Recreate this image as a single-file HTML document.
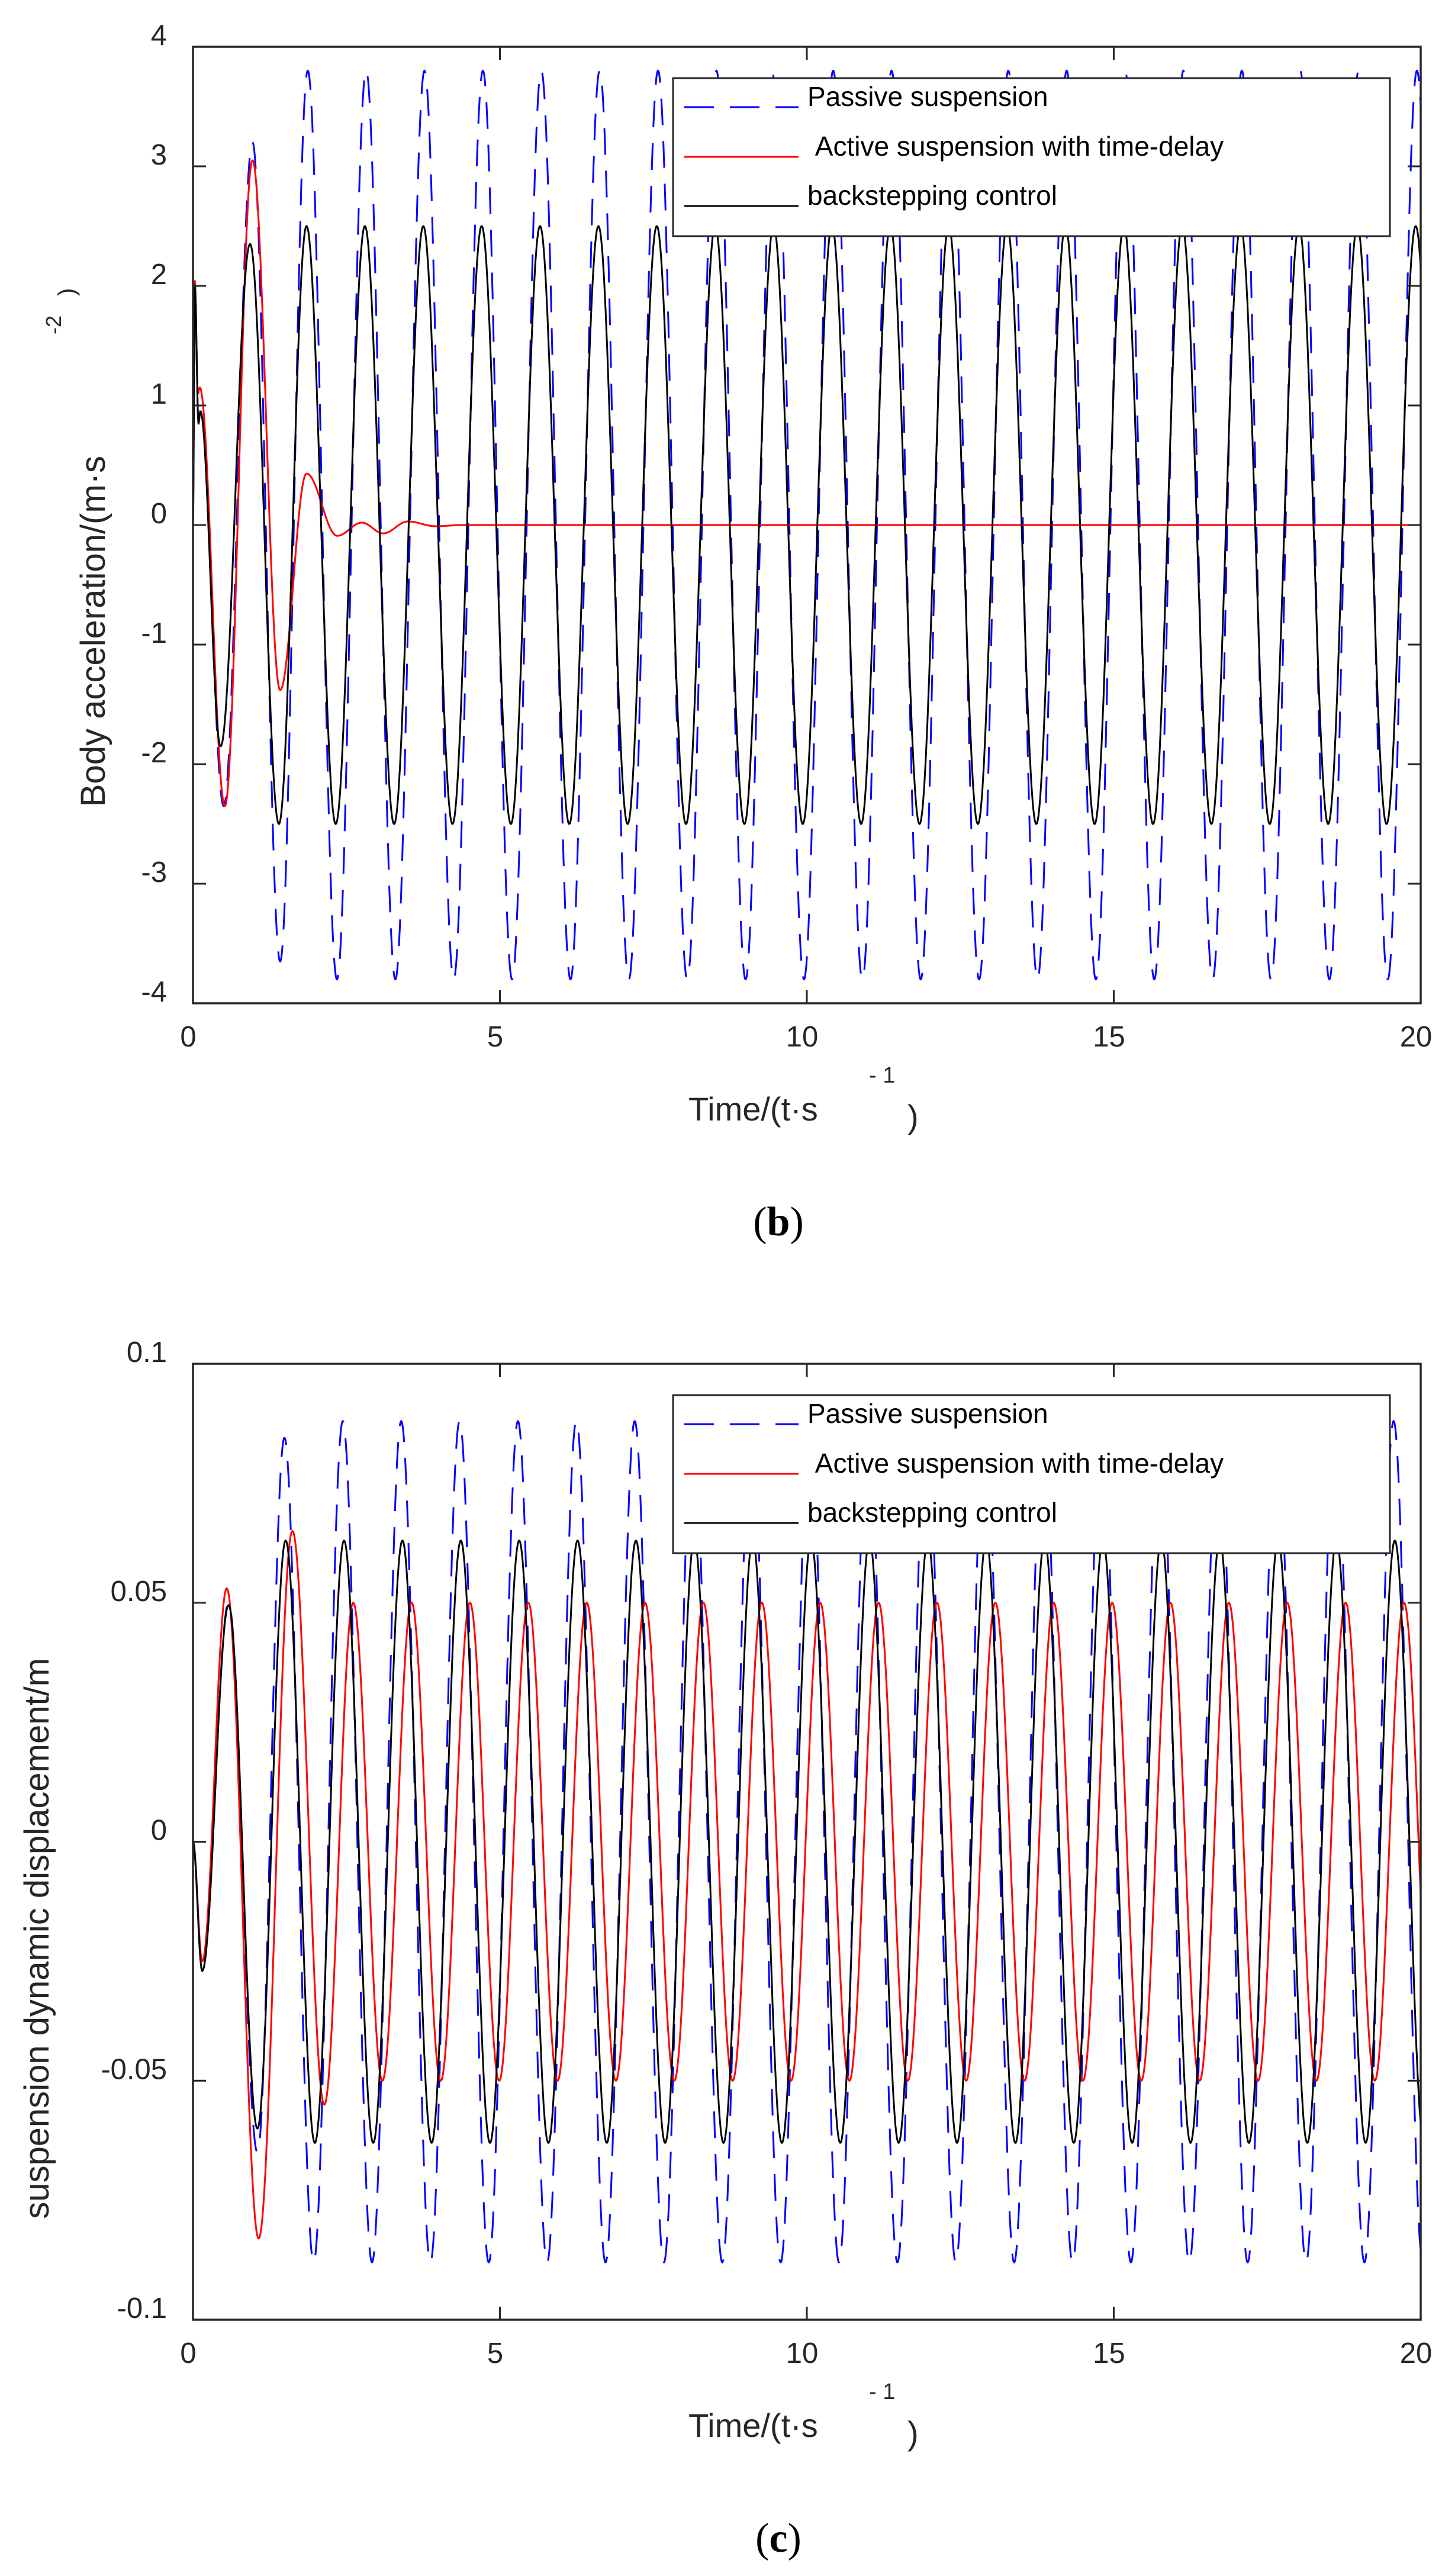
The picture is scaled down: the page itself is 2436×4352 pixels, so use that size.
<!DOCTYPE html>
<html><head><meta charset="utf-8">
<style>
html,body{margin:0;padding:0;background:#fff;}
svg{display:block;}
text{font-family:"Liberation Sans",Arial,sans-serif;fill:#262626;}
</style></head>
<body>
<svg id="s" width="2436" height="4352" viewBox="0 0 2436 4352" xmlns="http://www.w3.org/2000/svg">
<defs>
<clipPath id="cb"><rect x="326" y="79" width="2074" height="1616"/></clipPath>
<clipPath id="cc"><rect x="326" y="2304" width="2074" height="1615"/></clipPath>
</defs>
<g id="gb" clip-path="url(#cb)"></g>
<g id="gc" clip-path="url(#cc)"></g>
<g id="axes"></g>

<text x="177" y="770" font-size="58" text-anchor="end" transform="rotate(-90 177 770)">Body acceleration/(m·s</text>
<text x="103" y="565" font-size="36" transform="rotate(-90 103 565)">-2</text>
<text x="126" y="500" font-size="40" transform="rotate(-90 126 500)">)</text>
<text x="1163" y="1893" font-size="56">Time/(t·s</text>
<text x="1468" y="1829" font-size="38">- 1</text>
<text x="1533" y="1906" font-size="56">)</text>
<text x="1315" y="2087" font-size="70" text-anchor="middle" style="font-family:'Liberation Serif',serif;fill:#000">(<tspan font-weight="bold">b</tspan>)</text>

<text x="82" y="2801" font-size="58" text-anchor="end" transform="rotate(-90 82 2801)">suspension dynamic displacement/m</text>
<text x="1163" y="4117" font-size="56">Time/(t·s</text>
<text x="1468" y="4053" font-size="38">- 1</text>
<text x="1533" y="4130" font-size="56">)</text>
<text x="1315" y="4311" font-size="70" text-anchor="middle" style="font-family:'Liberation Serif',serif;fill:#000">(<tspan font-weight="bold">c</tspan>)</text>
</svg>
<script>
(function(){
var NS="http://www.w3.org/2000/svg";
var svg=document.getElementById('s');
function el(tag,attrs,parent,txt){var e=document.createElementNS(NS,tag);for(var k in attrs)e.setAttribute(k,attrs[k]);if(txt!==undefined)e.textContent=txt;(parent||svg).appendChild(e);return e;}
var X0=326,X1=2400;
function xs(t){return X0+(X1-X0)*t/20;}
function build(ext,amp,t0,half){
  var pts=ext.slice();var k=0;
  while(true){var t=t0+k*half;if(t>20.6)break;pts.push([t,(k%2==0?1:-1)*amp]);k++;}
  return pts;
}
function valAt(pts,t){
  for(var i=0;i<pts.length-1;i++){
    if(t>=pts[i][0]&&t<=pts[i+1][0]){
      var a=pts[i],b=pts[i+1];var u=(t-a[0])/(b[0]-a[0]);
      return a[1]+(b[1]-a[1])*(1-Math.cos(Math.PI*u))/2;
    }
  }
  return pts[pts.length-1][1];
}
function path(pts,ymap){
  var d="";for(var t=0;t<=20.0001;t+=0.004){d+=(d?"L":"M")+xs(t).toFixed(1)+","+ymap(valAt(pts,t)).toFixed(1);}
  return d;
}
var H=0.951/2;
var yb=function(v){return 887-202*v;};
var gb=document.getElementById('gb');
var blueB=build([[0,0],[0.03,2.0],[0.09,0.85],[0.12,0.95],[0.5,-2.35],[0.97,3.2],[1.42,-3.65]],3.8,1.87,H);
var redB=[[0,0],[0.03,2.05],[0.08,1.1],[0.11,1.15],[0.52,-2.35],[0.97,3.05],[1.42,-1.38],[1.85,0.43],[2.35,-0.09],[2.75,0.02],[3.1,-0.07],[3.5,0.03],[3.95,-0.01],[4.4,0],[21,0]];
var blackB=build([[0,0],[0.03,2.0],[0.09,0.85],[0.12,0.95],[0.45,-1.85],[0.93,2.35],[1.4,-2.5]],2.5,1.85,H);
el('path',{d:path(blueB,yb),fill:'none',stroke:'#0000ff','stroke-width':3,'stroke-dasharray':'45,27'},gb);
el('path',{d:path(redB,yb),fill:'none',stroke:'#ff0000','stroke-width':3},gb);
el('path',{d:path(blackB,yb),fill:'none',stroke:'#000','stroke-width':3},gb);
var yc=function(v){return 3111.5-8075*v;};
var gc=document.getElementById('gc');
var blueC=build([[0,0],[0.15,-0.027],[0.58,0.05],[1.05,-0.065]],0.088,1.49,H);
blueC[4][1]=0.0845;
var redC=build([[0,0],[0.15,-0.025],[0.55,0.053],[1.07,-0.083],[1.62,0.065],[2.14,-0.055]],0.05,2.61,H);
var blackC=build([[0,0],[0.15,-0.027],[0.58,0.0495],[1.05,-0.06]],0.063,1.51,H);
el('path',{d:path(blueC,yc),fill:'none',stroke:'#0000ff','stroke-width':3,'stroke-dasharray':'45,27'},gc);
el('path',{d:path(redC,yc),fill:'none',stroke:'#ff0000','stroke-width':3},gc);
el('path',{d:path(blackC,yc),fill:'none',stroke:'#000','stroke-width':3},gc);

var ax=document.getElementById('axes');
function axes(top,bot,yticks,ylab,ymap){
  el('rect',{x:X0,y:top,width:X1-X0,height:bot-top,fill:'none',stroke:'#262626','stroke-width':3.5},ax);
  for(var i=0;i<=4;i++){var x=xs(i*5);
    el('line',{x1:x,y1:bot,x2:x,y2:bot-22,stroke:'#262626','stroke-width':3},ax);
    el('line',{x1:x,y1:top,x2:x,y2:top+22,stroke:'#262626','stroke-width':3},ax);
    el('text',{x:x-8,y:bot+73,'font-size':49,'text-anchor':'middle'},ax,String(i*5));
  }
  for(var j=0;j<yticks.length;j++){var y=ymap(yticks[j]);
    el('line',{x1:X0,y1:y,x2:X0+22,y2:y,stroke:'#262626','stroke-width':3},ax);
    el('line',{x1:X1,y1:y,x2:X1-22,y2:y,stroke:'#262626','stroke-width':3},ax);
    el('text',{x:282,y:y-3,'font-size':49,'text-anchor':'end'},ax,ylab[j]);
  }
  var lt=top+53,lh=267,lx=1137,lw=1211;
  el('rect',{x:lx,y:lt,width:lw,height:lh,fill:'#fff',stroke:'#262626','stroke-width':3},ax);
  var rows=[[49,'#0000ff','45,27','Passive suspension',1364],[133,'#ff0000','','\u00a0Active suspension with time-delay',1364],[216,'#000','','backstepping control',1364]];
  rows.forEach(function(r){
    var a={x1:1156,y1:lt+r[0],x2:1349,y2:lt+r[0],stroke:r[1],'stroke-width':3};
    if(r[2])a['stroke-dasharray']='50,27';
    el('line',a,ax);
    el('text',{x:r[4],y:lt+r[0]-2,'font-size':46,style:'fill:#000'},ax,r[3]);
  });
}
axes(79,1695,[4,3,2,1,0,-1,-2,-3,-4],['4','3','2','1','0','-1','-2','-3','-4'],yb);
axes(2304,3919,[0.1,0.05,0,-0.05,-0.1],['0.1','0.05','0','-0.05','-0.1'],yc);
})();
</script>
</body></html>
